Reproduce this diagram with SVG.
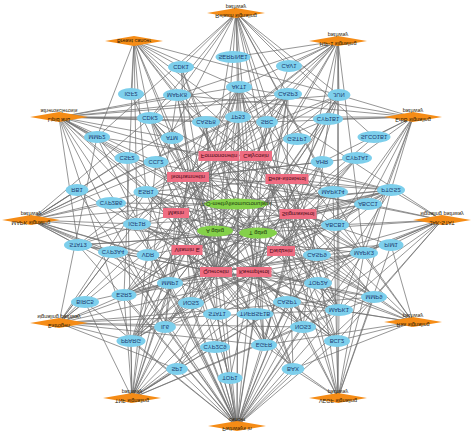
<svg xmlns="http://www.w3.org/2000/svg" width="474" height="439" viewBox="0 0 474 439">
<style>
.e{fill:none;stroke:#6c6c6c;stroke-width:0.8;stroke-opacity:0.9}
text{font-family:"Liberation Sans",Arial,sans-serif;text-anchor:middle}
.tg ellipse{fill:#7dcfec}
.tg text{font-size:5.9px;fill:#1c3a70}
.cp rect{fill:#ef6d82}
.cp text{font-size:5.9px;fill:#4a0b16}
.gc ellipse{fill:#84d14a}
.gc text{font-size:5.9px;fill:#1d3a0c}
.pw polygon{fill:#f58c16}
.pw text{font-size:5.5px;fill:#2a1a06}
</style>
<rect width="474" height="439" fill="#ffffff"/>
<g id="connectors" class="e">
<path d="M236 13L239 87M236 13L267 122M236 13L177 95M236 13L339 95M236 13L97 137M236 13L238 117M236 13L288 94M236 13L233 57M236 13L181 67M236 13L289 66M236 13L150 118M236 13L339 310M236 13L364 253M236 13L333 192M236 13L303 327M236 13L264 345M236 13L191 303M236 13L156 162M236 13L374 137"/>
<path d="M134 41L131 94M134 41L181 67M134 41L177 95M134 41L239 87M134 41L238 117M134 41L146 192M134 41L124 295M134 41L137 224M134 41L264 345M134 41L339 310M134 41L364 253M134 41L339 95M134 41L150 118M134 41L172 138M134 41L206 122M134 41L97 137"/>
<path d="M338 41L289 66M338 41L233 57M338 41L239 87M338 41L339 95M338 41L288 94M338 41L339 310M338 41L364 253M338 41L264 345M338 41L165 327M338 41L191 303M338 41L303 327M338 41L337 341M338 41L137 224M338 41L78 245M338 41L267 122M338 41L177 95M338 41L238 117"/>
<path d="M59 117L150 118M59 117L97 137M59 117L127 158M59 117L156 162M59 117L172 138M59 117L239 87M59 117L206 122M59 117L288 94M59 117L238 117M59 117L267 122M59 117L339 95M59 117L165 327M59 117L131 341M59 117L78 245M59 117L303 327M59 117L374 297M59 117L170 283M59 117L337 341M59 117L293 369M59 117L317 255M59 117L177 95M59 117L333 192"/>
<path d="M413 117L328 119M413 117L374 137M413 117L339 95M413 117L267 122M413 117L239 87M413 117L264 345M413 117L339 310M413 117L364 253M413 117L177 95M413 117L357 158M413 117L391 190M413 117L368 204M413 117L335 225M413 117L322 162M413 117L238 117"/>
<path d="M31 220L77 190M31 220L111 203M31 220L78 245M31 220L113 252M31 220L137 224M31 220L239 87M31 220L288 94M31 220L264 345M31 220L339 95M31 220L339 310M31 220L364 253M31 220L177 95M31 220L333 192M31 220L238 117M31 220L255 314M31 220L146 192M31 220L148 255M31 220L170 283M31 220L127 158"/>
<path d="M442 220L391 245M442 220L364 253M442 220L368 204M442 220L391 190M442 220L335 225M442 220L217 314M442 220L78 245M442 220L165 327M442 220L239 87M442 220L337 341M442 220L127 158M442 220L264 345M442 220L317 255M442 220L374 297M442 220L339 310"/>
<path d="M59 323L85 302M59 323L124 295M59 323L146 192M59 323L239 87M59 323L339 95M59 323L339 310M59 323L364 253M59 323L97 137M59 323L374 297M59 323L303 327M59 323L177 369M59 323L264 345M59 323L267 122M59 323L131 341M59 323L165 327M59 323L113 252M59 323L170 283"/>
<path d="M413 322L374 297M413 322L339 310M413 322L337 341M413 322L364 253M413 322L239 87M413 322L264 345M413 322L177 95M413 322L137 224M413 322L391 245M413 322L318 283M413 322L317 255M413 322L293 369M413 322L287 302"/>
<path d="M132 398L131 341M132 398L165 327M132 398L177 369M132 398L85 302M132 398L124 295M132 398L239 87M132 398L288 94M132 398L287 302M132 398L206 122M132 398L156 162M132 398L127 158M132 398L339 95M132 398L339 310M132 398L364 253M132 398L177 95M132 398L333 192M132 398L374 297M132 398L391 190M132 398L255 314M132 398L170 283"/>
<path d="M237 426L230 378M237 426L177 369M237 426L293 369M237 426L215 347M237 426L264 345M237 426L217 314M237 426L255 314M237 426L191 303M237 426L287 302M237 426L165 327M237 426L303 327M237 426L337 341M237 426L131 341M237 426L170 283M237 426L318 283M237 426L339 310M237 426L374 297M237 426L124 295M237 426L85 302M237 426L364 253M237 426L317 255M237 426L148 255M237 426L113 252M237 426L78 245M237 426L137 224M237 426L146 192M237 426L77 190M237 426L391 190M237 426L333 192M237 426L239 87M237 426L288 94M237 426L206 122M237 426L238 117M237 426L150 118M237 426L97 137M237 426L339 95M237 426L177 95M237 426L267 122"/>
<path d="M338 398L337 341M338 398L293 369M338 398L339 310M338 398L374 297M338 398L303 327M338 398L264 345M338 398L364 253M338 398L239 87M338 398L333 192M338 398L391 190M338 398L267 122M338 398L317 255M338 398L391 245M338 398L287 302"/>
<path d="M216 272L239 87M216 272L288 94M216 272L206 122M216 272L317 255M216 272L337 341M216 272L293 369M216 272L264 345M216 272L165 327M216 272L339 95M216 272L339 310M216 272L364 253M216 272L177 95M216 272L97 137M216 272L374 297M216 272L170 283M216 272L391 190M216 272L77 190M216 272L217 314M216 272L78 245M216 272L85 302M216 272L150 118M216 272L146 192M216 272L124 295M216 272L238 117M216 272L328 119M216 272L357 158M216 272L322 162M216 272L297 139M216 272L368 204M216 272L335 225M216 272L113 252M216 272L391 245M216 272L318 283M216 272L230 378M216 272L303 327M216 272L191 303M216 272L233 57M216 272L181 67M216 272L131 94M216 272L289 66M216 272L127 158M216 272L156 162M216 272L137 224M216 272L255 314M216 272L131 341M216 272L177 369M216 272L374 137M216 272L172 138M216 272L111 203"/>
<path d="M254 272L239 87M254 272L288 94M254 272L264 345M254 272L165 327M254 272L339 95M254 272L339 310M254 272L364 253M254 272L391 190M254 272L78 245M254 272L337 341M254 272L293 369M254 272L238 117M254 272L374 297M254 272L170 283M254 272L357 158M254 272L328 119M254 272L322 162M254 272L146 192M254 272L124 295M254 272L318 283M254 272L230 378M254 272L287 302M254 272L191 303M254 272L303 327M254 272L131 341M254 272L177 369M254 272L137 224M254 272L150 118M254 272L181 67"/>
<path d="M219 156L239 87M219 156L288 94M219 156L317 255M219 156L337 341M219 156L293 369M219 156L146 192M219 156L124 295M219 156L238 117M219 156L339 310M219 156L364 253M219 156L391 190M219 156L131 341M219 156L374 297M219 156L97 137M219 156L177 95M219 156L150 118"/>
<path d="M256 156L239 87M256 156L264 345M256 156L146 192M256 156L124 295M256 156L317 255M256 156L288 94M256 156L337 341M256 156L391 190M256 156L374 297M256 156L339 310M256 156L267 122M256 156L78 245"/>
<path d="M188 177L239 87M188 177L288 94M188 177L337 341M188 177L293 369M188 177L264 345M188 177L391 190M188 177L374 297M188 177L170 283M188 177L339 95M188 177L339 310M188 177L364 253M188 177L165 327M188 177L328 119M188 177L357 158M188 177L322 162M188 177L368 204M188 177L335 225M188 177L150 118M188 177L181 67M188 177L172 138"/>
<path d="M287 179L288 94M287 179L317 255M287 179L337 341M287 179L293 369M287 179L206 122M287 179L339 95M287 179L131 341M287 179L391 190M287 179L146 192M287 179L124 295M287 179L339 310M287 179L165 327"/>
<path d="M236 204L150 118M236 204L181 67M236 204L146 192M236 204L124 295M236 204L131 341M236 204L391 190M236 204L111 203M236 204L113 252M236 204L148 255"/>
<path d="M176 213L239 87M176 213L288 94M176 213L165 327M176 213L337 341M176 213L131 341M176 213L391 190M176 213L78 245M176 213L217 314"/>
<path d="M298 214L239 87M298 214L391 190M298 214L264 345M298 214L391 245M298 214L146 192M298 214L124 295M298 214L364 253M298 214L374 297M298 214L368 204M298 214L335 225M298 214L137 224M298 214L357 158"/>
<path d="M215 231L150 118M215 231L146 192M215 231L124 295M215 231L391 190M215 231L131 341M215 231L368 204M215 231L335 225"/>
<path d="M258 233L150 118M258 233L146 192M258 233L124 295M258 233L391 190M258 233L131 341M258 233L78 245M258 233L148 255M258 233L127 158M258 233L111 203"/>
<path d="M187 250L391 190M187 250L131 341M187 250L170 283M187 250L217 314M187 250L191 303M187 250L230 378"/>
<path d="M281 251L146 192M281 251L124 295M281 251L391 190M281 251L131 341M281 251L191 303M281 251L303 327M281 251L374 297M281 251L391 245M281 251L318 283M281 251L137 224M281 251L357 158M281 251L322 162"/>
</g>
<g id="pathways" class="pw">
<g id="p-relaxin" transform="translate(236 13)"><polygon points="-29,0 0,-5 29,0 0,5"/><text transform="scale(1,-1)"><tspan x="0" y="-1">Relaxin signaling</tspan><tspan x="0" y="8">pathway</tspan></text></g>
<g id="p-breast" transform="translate(134 41)"><polygon points="-29,0 0,-5 29,0 0,5"/><text transform="scale(1,-1)" y="2">Breast cancer</text></g>
<g id="p-hif1" transform="translate(338 41)"><polygon points="-29,0 0,-5 29,0 0,5"/><text transform="scale(1,-1)"><tspan x="0" y="-1">HIF-1 signaling</tspan><tspan x="0" y="8">pathway</tspan></text></g>
<g id="p-lipid" transform="translate(59 117)"><polygon points="-29,0 0,-5 29,0 0,5"/><text transform="scale(1,-1)"><tspan x="0" y="-1">Lipid and</tspan><tspan x="0" y="8">atherosclerosis</tspan></text></g>
<g id="p-erbb" transform="translate(413 117)"><polygon points="-29,0 0,-5 29,0 0,5"/><text transform="scale(1,-1)"><tspan x="0" y="-1">ErbB signaling</tspan><tspan x="0" y="8">pathway</tspan></text></g>
<g id="p-mapk" transform="translate(31 220)"><polygon points="-29,0 0,-5 29,0 0,5"/><text transform="scale(1,-1)"><tspan x="0" y="-1">MAPK signaling</tspan><tspan x="0" y="8">pathway</tspan></text></g>
<g id="p-jakstat" transform="translate(442 220)"><polygon points="-29,0 0,-5 29,0 0,5"/><text transform="scale(1,-1)"><tspan x="0" y="-1">JAK-STAT</tspan><tspan x="0" y="8">signaling pathway</tspan></text></g>
<g id="p-estrogen" transform="translate(59 323)"><polygon points="-29,0 0,-5 29,0 0,5"/><text transform="scale(1,-1)"><tspan x="0" y="-1">Estrogen</tspan><tspan x="0" y="8">signaling pathway</tspan></text></g>
<g id="p-ras" transform="translate(413 322)"><polygon points="-29,0 0,-5 29,0 0,5"/><text transform="scale(1,-1)"><tspan x="0" y="-1">Ras signaling</tspan><tspan x="0" y="8">pathway</tspan></text></g>
<g id="p-tnf" transform="translate(132 398)"><polygon points="-29,0 0,-5 29,0 0,5"/><text transform="scale(1,-1)"><tspan x="0" y="-1">TNF signaling</tspan><tspan x="0" y="8">pathway</tspan></text></g>
<g id="p-cancer" transform="translate(237 426)"><polygon points="-29,0 0,-5 29,0 0,5"/><text transform="scale(1,-1)"><tspan x="0" y="-1">Pathways in</tspan><tspan x="0" y="8">cancer</tspan></text></g>
<g id="p-vegf" transform="translate(338 398)"><polygon points="-29,0 0,-5 29,0 0,5"/><text transform="scale(1,-1)"><tspan x="0" y="-1">VEGF signaling</tspan><tspan x="0" y="8">pathway</tspan></text></g>
</g>
<g id="targets" class="tg">
<g id="n-IGF2" transform="translate(131 94)"><ellipse rx="13" ry="6"/><text transform="scale(1,-1)" y="2">IGF2</text></g>
<g id="n-CDK1" transform="translate(181 67)"><ellipse rx="13" ry="6"/><text transform="scale(1,-1)" y="2">CDK1</text></g>
<g id="n-SERPINE1" transform="translate(233 57)"><ellipse rx="17.5" ry="6"/><text transform="scale(1,-1)" y="2">SERPINE1</text></g>
<g id="n-CAV1" transform="translate(289 66)"><ellipse rx="13" ry="6"/><text transform="scale(1,-1)" y="2">CAV1</text></g>
<g id="n-MAPK8" transform="translate(177 95)"><ellipse rx="14" ry="6"/><text transform="scale(1,-1)" y="2">MAPK8</text></g>
<g id="n-AKT1" transform="translate(239 87)"><ellipse rx="13" ry="6"/><text transform="scale(1,-1)" y="2">AKT1</text></g>
<g id="n-CASP3" transform="translate(288 94)"><ellipse rx="14" ry="6"/><text transform="scale(1,-1)" y="2">CASP3</text></g>
<g id="n-JUN" transform="translate(339 95)"><ellipse rx="11.5" ry="6"/><text transform="scale(1,-1)" y="2">JUN</text></g>
<g id="n-MMP2" transform="translate(97 137)"><ellipse rx="13" ry="6"/><text transform="scale(1,-1)" y="2">MMP2</text></g>
<g id="n-CDK2" transform="translate(150 118)"><ellipse rx="13" ry="6"/><text transform="scale(1,-1)" y="2">CDK2</text></g>
<g id="n-CASP8" transform="translate(206 122)"><ellipse rx="14" ry="6"/><text transform="scale(1,-1)" y="2">CASP8</text></g>
<g id="n-TP53" transform="translate(238 117)"><ellipse rx="13" ry="6"/><text transform="scale(1,-1)" y="2">TP53</text></g>
<g id="n-SRC" transform="translate(267 122)"><ellipse rx="11" ry="6"/><text transform="scale(1,-1)" y="2">SRC</text></g>
<g id="n-CYP1B1" transform="translate(328 119)"><ellipse rx="15" ry="6"/><text transform="scale(1,-1)" y="2">CYP1B1</text></g>
<g id="n-SLCO1B1" transform="translate(374 137)"><ellipse rx="16.5" ry="6"/><text transform="scale(1,-1)" y="2">SLCO1B1</text></g>
<g id="n-ATM" transform="translate(172 138)"><ellipse rx="11.5" ry="6"/><text transform="scale(1,-1)" y="2">ATM</text></g>
<g id="n-GSTP1" transform="translate(297 139)"><ellipse rx="14" ry="6"/><text transform="scale(1,-1)" y="2">GSTP1</text></g>
<g id="n-CSF2" transform="translate(127 158)"><ellipse rx="12.5" ry="6"/><text transform="scale(1,-1)" y="2">CSF2</text></g>
<g id="n-CCL2" transform="translate(156 162)"><ellipse rx="12.5" ry="6"/><text transform="scale(1,-1)" y="2">CCL2</text></g>
<g id="n-AHR" transform="translate(322 162)"><ellipse rx="11.5" ry="6"/><text transform="scale(1,-1)" y="2">AHR</text></g>
<g id="n-CYP1A1" transform="translate(357 158)"><ellipse rx="15" ry="6"/><text transform="scale(1,-1)" y="2">CYP1A1</text></g>
<g id="n-RB1" transform="translate(77 190)"><ellipse rx="11.5" ry="6"/><text transform="scale(1,-1)" y="2">RB1</text></g>
<g id="n-ESR1" transform="translate(146 192)"><ellipse rx="12.5" ry="6"/><text transform="scale(1,-1)" y="2">ESR1</text></g>
<g id="n-CYP2B6" transform="translate(111 203)"><ellipse rx="15" ry="6"/><text transform="scale(1,-1)" y="2">CYP2B6</text></g>
<g id="n-MAPK14" transform="translate(333 192)"><ellipse rx="15" ry="6"/><text transform="scale(1,-1)" y="2">MAPK14</text></g>
<g id="n-PTGS2" transform="translate(391 190)"><ellipse rx="14" ry="6"/><text transform="scale(1,-1)" y="2">PTGS2</text></g>
<g id="n-ABCC1" transform="translate(368 204)"><ellipse rx="14" ry="6"/><text transform="scale(1,-1)" y="2">ABCC1</text></g>
<g id="n-IGF1R" transform="translate(137 224)"><ellipse rx="14" ry="6"/><text transform="scale(1,-1)" y="2">IGF1R</text></g>
<g id="n-ABCB1" transform="translate(335 225)"><ellipse rx="14" ry="6"/><text transform="scale(1,-1)" y="2">ABCB1</text></g>
<g id="n-STAT3" transform="translate(78 245)"><ellipse rx="14" ry="6"/><text transform="scale(1,-1)" y="2">STAT3</text></g>
<g id="n-CYP3A4" transform="translate(113 252)"><ellipse rx="15" ry="6"/><text transform="scale(1,-1)" y="2">CYP3A4</text></g>
<g id="n-VDR" transform="translate(148 255)"><ellipse rx="11.5" ry="6"/><text transform="scale(1,-1)" y="2">VDR</text></g>
<g id="n-PIM1" transform="translate(391 245)"><ellipse rx="12.5" ry="6"/><text transform="scale(1,-1)" y="2">PIM1</text></g>
<g id="n-MAPK3" transform="translate(364 253)"><ellipse rx="14" ry="6"/><text transform="scale(1,-1)" y="2">MAPK3</text></g>
<g id="n-CASP9" transform="translate(317 255)"><ellipse rx="14" ry="6"/><text transform="scale(1,-1)" y="2">CASP9</text></g>
<g id="n-BIRC5" transform="translate(85 302)"><ellipse rx="14" ry="6"/><text transform="scale(1,-1)" y="2">BIRC5</text></g>
<g id="n-ESR2" transform="translate(124 295)"><ellipse rx="12.5" ry="6"/><text transform="scale(1,-1)" y="2">ESR2</text></g>
<g id="n-MMP1" transform="translate(170 283)"><ellipse rx="13" ry="6"/><text transform="scale(1,-1)" y="2">MMP1</text></g>
<g id="n-TOP2A" transform="translate(318 283)"><ellipse rx="14" ry="6"/><text transform="scale(1,-1)" y="2">TOP2A</text></g>
<g id="n-MMP9" transform="translate(374 297)"><ellipse rx="13" ry="6"/><text transform="scale(1,-1)" y="2">MMP9</text></g>
<g id="n-NOS2" transform="translate(191 303)"><ellipse rx="13" ry="6"/><text transform="scale(1,-1)" y="2">NOS2</text></g>
<g id="n-STAT1" transform="translate(217 314)"><ellipse rx="14" ry="6"/><text transform="scale(1,-1)" y="2">STAT1</text></g>
<g id="n-TNFRSF1B" transform="translate(255 314)"><ellipse rx="18.5" ry="6"/><text transform="scale(1,-1)" y="2">TNFRSF1B</text></g>
<g id="n-CASP7" transform="translate(287 302)"><ellipse rx="14" ry="6"/><text transform="scale(1,-1)" y="2">CASP7</text></g>
<g id="n-MAPK1" transform="translate(339 310)"><ellipse rx="14" ry="6"/><text transform="scale(1,-1)" y="2">MAPK1</text></g>
<g id="n-IL6" transform="translate(165 327)"><ellipse rx="11" ry="6"/><text transform="scale(1,-1)" y="2">IL6</text></g>
<g id="n-NOS3" transform="translate(303 327)"><ellipse rx="13" ry="6"/><text transform="scale(1,-1)" y="2">NOS3</text></g>
<g id="n-PPARG" transform="translate(131 341)"><ellipse rx="14.5" ry="6"/><text transform="scale(1,-1)" y="2">PPARG</text></g>
<g id="n-CYP2C9" transform="translate(215 347)"><ellipse rx="15" ry="6"/><text transform="scale(1,-1)" y="2">CYP2C9</text></g>
<g id="n-EGFR" transform="translate(264 345)"><ellipse rx="13" ry="6"/><text transform="scale(1,-1)" y="2">EGFR</text></g>
<g id="n-BCL2" transform="translate(337 341)"><ellipse rx="13" ry="6"/><text transform="scale(1,-1)" y="2">BCL2</text></g>
<g id="n-SP1" transform="translate(177 369)"><ellipse rx="11" ry="6"/><text transform="scale(1,-1)" y="2">SP1</text></g>
<g id="n-BAX" transform="translate(293 369)"><ellipse rx="11.5" ry="6"/><text transform="scale(1,-1)" y="2">BAX</text></g>
<g id="n-TOP1" transform="translate(230 378)"><ellipse rx="12.5" ry="6"/><text transform="scale(1,-1)" y="2">TOP1</text></g>
</g>
<g id="compounds">
<g id="c-formononetin" class="cp" transform="translate(219 156)"><rect x="-20.5" y="-5" width="41" height="10"/><text transform="scale(1,-1)" y="2">Formononetin</text></g>
<g id="c-calycosin" class="cp" transform="translate(256 156)"><rect x="-16" y="-5" width="32" height="10"/><text transform="scale(1,-1)" y="2">Calycosin</text></g>
<g id="c-isorhamnetin" class="cp" transform="translate(188 177)"><rect x="-21" y="-5" width="42" height="10"/><text transform="scale(1,-1)" y="2">Isorhamnetin</text></g>
<g id="c-sitosterol" class="cp" transform="translate(287 179)"><rect x="-21.5" y="-5" width="43" height="10"/><text transform="scale(1,-1)" y="2">Beta-sitosterol</text></g>
<g id="c-mairin" class="cp" transform="translate(176 213)"><rect x="-13" y="-5" width="26" height="10"/><text transform="scale(1,-1)" y="2">Mairin</text></g>
<g id="c-stigmasterol" class="cp" transform="translate(298 214)"><rect x="-18.5" y="-5" width="37" height="10"/><text transform="scale(1,-1)" y="2">Stigmasterol</text></g>
<g id="c-vitamine" class="cp" transform="translate(187 250)"><rect x="-15.5" y="-5" width="31" height="10"/><text transform="scale(1,-1)" y="2">Vitamin E</text></g>
<g id="c-daidzein" class="cp" transform="translate(281 251)"><rect x="-14" y="-5" width="28" height="10"/><text transform="scale(1,-1)" y="2">Daidzein</text></g>
<g id="c-quercetin" class="cp" transform="translate(216 272)"><rect x="-16" y="-5" width="32" height="10"/><text transform="scale(1,-1)" y="2">Quercetin</text></g>
<g id="c-kaempferol" class="cp" transform="translate(254 272)"><rect x="-17.5" y="-5" width="35" height="10"/><text transform="scale(1,-1)" y="2">Kaempferol</text></g>
<g id="g-long" class="gc" transform="translate(236 204)"><ellipse rx="32" ry="5.5"/><text transform="scale(1,-1)" y="2">7-O-methylisomucronulatol</text></g>
<g id="g-a" class="gc" transform="translate(215 231)"><ellipse rx="18" ry="5.5"/><text transform="scale(1,-1)" y="2">A gdsg</text></g>
<g id="g-b" class="gc" transform="translate(258 233)"><ellipse rx="19" ry="5.5"/><text transform="scale(1,-1)" y="2">T gdsg</text></g>
</g>
</svg>
